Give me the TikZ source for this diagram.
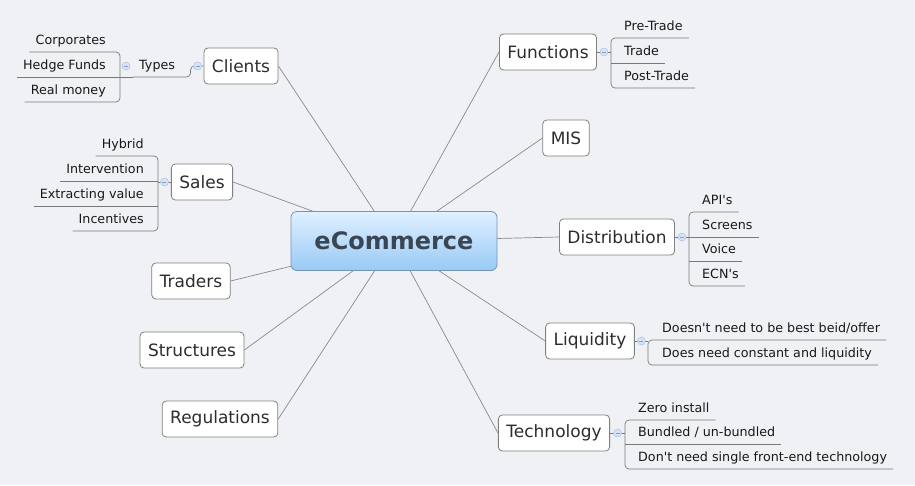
\documentclass[tikz,border=0pt]{standalone}
\usepackage{fontspec}
\setmainfont{DejaVu Sans}
\usetikzlibrary{positioning,backgrounds,calc}

\definecolor{paper}{RGB}{239,241,245}
\definecolor{boxline}{RGB}{128,128,128}
\definecolor{branchline}{RGB}{138,138,138}
\definecolor{twigline}{RGB}{120,120,120}
\definecolor{topictext}{RGB}{45,45,45}
\definecolor{leaftext}{RGB}{25,25,25}
\definecolor{hubtop}{RGB}{224,240,255}
\definecolor{hubbottom}{RGB}{152,202,246}
\definecolor{hubline}{RGB}{118,148,182}
\definecolor{hubtext}{RGB}{60,70,82}
\definecolor{knobfill}{RGB}{214,228,245}
\definecolor{knobline}{RGB}{168,194,226}
\definecolor{knobmark}{RGB}{130,158,198}
\newcommand\apos{\textquotesingle}

\begin{document}
\begin{tikzpicture}[
  x=1pt, y=-1pt,
  hub/.style={draw=hubline, line width=0.8pt, rounded corners=6pt,
              top color=hubtop, bottom color=hubbottom,
              minimum width=206pt, minimum height=59pt,
              font=\fontsize{24}{28}\selectfont\bfseries, text=hubtext},
  topic/.style={draw=boxline, fill=white, line width=0.8pt, rounded corners=4pt,
                minimum height=36pt, inner xsep=8pt,
                font=\fontsize{17}{20}\selectfont, text=topictext},
  leaf/.style={inner xsep=6pt, inner ysep=4.5pt, text height=9.5pt, text depth=3pt,
               font=\fontsize{12.7}{15}\selectfont, text=leaftext},
  branch/.style={draw=branchline, line width=0.7pt},
  twig/.style={draw=twigline, line width=0.7pt, rounded corners=4pt},
  knob/.style={circle, minimum size=8pt, inner sep=0pt, fill=knobfill,
               draw=knobline, line width=0.5pt,
               path picture={\draw[knobmark, line width=0.7pt]
                 ([xshift=2pt]path picture bounding box.west) --
                 ([xshift=-2pt]path picture bounding box.east);}}
]
\useasboundingbox (0,0) rectangle (915,485);

% central topic and main topics
\node[hub] (ecom) at (394,241) {eCommerce};
\node[topic] (clients)      at (241,66)  {Clients};
\node[topic] (sales)        at (202,182) {Sales};
\node[topic] (traders)      at (191,281) {Traders};
\node[topic] (structures)   at (192,350) {Structures};
\node[topic] (regulations)  at (220,419) {Regulations};
\node[topic] (functions)    at (548,52)  {Functions};
\node[topic] (mis)          at (566,138) {MIS};
\node[topic] (distribution) at (617,237) {Distribution};
\node[topic] (liquidity)    at (590,341) {Liquidity};
\node[topic] (technology)   at (554,433) {Technology};

% bracket columns
\coordinate (typesbrk) at (120,0);
\coordinate (salesbrk) at (158,0);
\coordinate (fnbrk)    at (611,0);
\coordinate (distbrk)  at (689,0);
\coordinate (liqbrk)   at (648,0);
\coordinate (techbrk)  at (625,0);

% leaves, left side
\node[leaf, anchor=south west] (types)        at (133,77)  {Types};
\node[leaf, anchor=south east] (corporates)   at (112,52)  {Corporates};
\node[leaf, anchor=south east] (hedgefunds)   at (112,77)  {Hedge Funds};
\node[leaf, anchor=south east] (realmoney)    at (112,102) {Real money};
\node[leaf, anchor=south east] (hybrid)       at (150,156) {Hybrid};
\node[leaf, anchor=south east] (intervention) at (150,181) {Intervention};
\node[leaf, anchor=south east] (extracting)   at (150,206) {Extracting value};
\node[leaf, anchor=south east] (incentives)   at (150,231) {Incentives};

% leaves, right side
\node[leaf, anchor=south west] (pretrade)  at (618,38)  {Pre-Trade};
\node[leaf, anchor=south west] (trade)     at (618,63)  {Trade};
\node[leaf, anchor=south west] (posttrade) at (618,88)  {Post-Trade};
\node[leaf, anchor=south west] (apis)      at (696,212) {API\apos s};
\node[leaf, anchor=south west] (screens)   at (696,237) {Screens};
\node[leaf, anchor=south west] (voice)     at (696,261) {Voice};
\node[leaf, anchor=south west] (ecns)      at (696,286) {ECN\apos s};
\node[leaf, anchor=south west] (notbest)   at (656,340) {Doesn\apos t need to be best beid/offer};
\node[leaf, anchor=south west] (constant)  at (656,365) {Does need constant and liquidity};
\node[leaf, anchor=south west] (zeroinst)  at (632,420) {Zero install};
\node[leaf, anchor=south west] (bundled)   at (632,444) {Bundled / un-bundled};
\node[leaf, anchor=south west] (frontend)  at (632,469) {Don\apos t need single front-end technology};

\begin{scope}[on background layer]
  \fill[paper] (0,0) rectangle (915,485);
  \draw[branch] (ecom.center) -- (clients.east);
  \draw[branch] (ecom.center) -- (sales.east);
  \draw[branch] (ecom.center) -- (traders.east);
  \draw[branch] (ecom.center) -- (structures.east);
  \draw[branch] (ecom.center) -- (regulations.east);
  \draw[branch] (ecom.center) -- (functions.west);
  \draw[branch] (ecom.center) -- (mis.west);
  \draw[branch] (ecom.center) -- (distribution.west);
  \draw[branch] (ecom.center) -- (liquidity.west);
  \draw[branch] (ecom.center) -- (technology.west);
\end{scope}

% Clients -> Types -> leaves
\draw[twig] (clients.west) -- ++(-13pt,0) |- (types.south west);
\draw[twig] (types.south west) -- (typesbrk |- types.south);
\draw[twig] (corporates.south west) -- (typesbrk |- corporates.south)
            -- (typesbrk |- realmoney.south) -- (realmoney.south west);
\draw[twig] (hedgefunds.south west) -- (typesbrk |- hedgefunds.south);
\node[knob] (clientsknob) at ($(clients.west)+(-6pt,0)$) {};
\node[knob] (typesknob) at ($(typesbrk |- types.west)+(6pt,0)$) {};

% Sales
\draw[twig] (sales.west) -- (salesbrk |- sales.west);
\draw[twig] (hybrid.south west) -- (salesbrk |- hybrid.south)
            -- (salesbrk |- incentives.south) -- (incentives.south west);
\draw[twig] (intervention.south west) -- (salesbrk |- intervention.south);
\draw[twig] (extracting.south west) -- (salesbrk |- extracting.south);
\node[knob] (salesknob) at ($(sales.west)!0.5!(salesbrk |- sales.west)$) {};

% Functions
\draw[twig] (functions.east) -- (fnbrk |- functions.east);
\draw[twig] (pretrade.south east) -- (fnbrk |- pretrade.south)
            -- (fnbrk |- posttrade.south) -- (posttrade.south east);
\draw[twig] (fnbrk |- trade.south) -- (trade.south east);
\node[knob] (functionsknob) at ($(functions.east)!0.5!(fnbrk |- functions.east)$) {};

% Distribution
\draw[twig] (distribution.east) -- (distbrk |- distribution.east);
\draw[twig] (apis.south east) -- (distbrk |- apis.south)
            -- (distbrk |- ecns.south) -- (ecns.south east);
\draw[twig] (distbrk |- screens.south) -- (screens.south east);
\draw[twig] (distbrk |- voice.south) -- (voice.south east);
\node[knob] (distributionknob) at ($(distribution.east)!0.5!(distbrk |- distribution.east)$) {};

% Liquidity
\draw[twig] (liquidity.east) -- (liqbrk |- liquidity.east);
\draw[twig] (notbest.south east) -- (liqbrk |- notbest.south)
            -- (liqbrk |- constant.south) -- (constant.south east);
\node[knob] (liquidityknob) at ($(liquidity.east)!0.5!(liqbrk |- liquidity.east)$) {};

% Technology
\draw[twig] (technology.east) -- (techbrk |- technology.east);
\draw[twig] (zeroinst.south east) -- (techbrk |- zeroinst.south)
            -- (techbrk |- frontend.south) -- (frontend.south east);
\draw[twig] (techbrk |- bundled.south) -- (bundled.south east);
\node[knob] (technologyknob) at ($(technology.east)!0.5!(techbrk |- technology.east)$) {};
\end{tikzpicture}
\end{document}
